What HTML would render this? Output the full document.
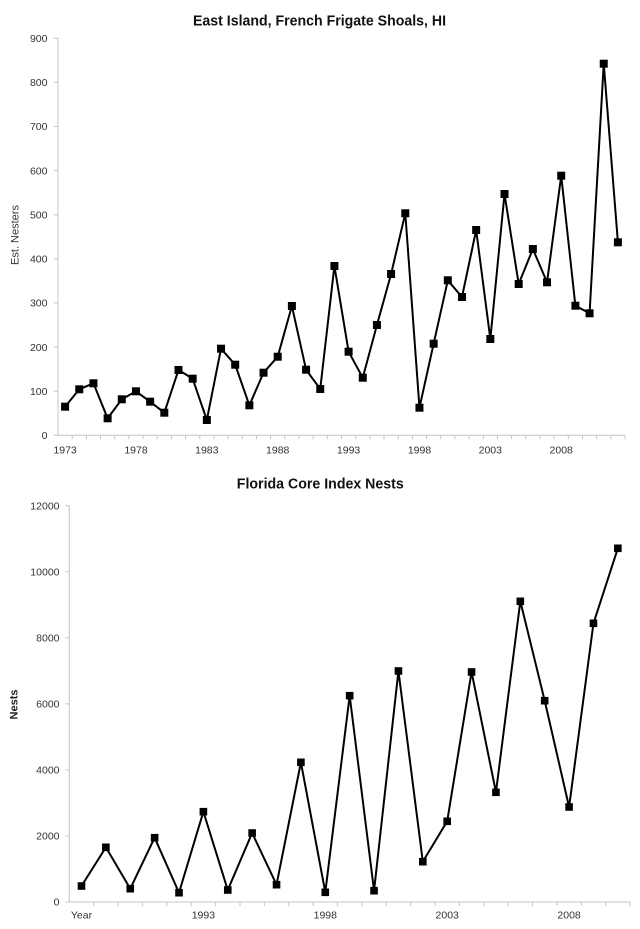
<!DOCTYPE html>
<html><head><meta charset="utf-8"><style>
html,body{margin:0;padding:0;background:#fff;}
svg{display:block;}
text{font-family:"Liberation Sans",sans-serif;}
</style></head><body>
<svg width="640" height="929" viewBox="0 0 640 929" xmlns="http://www.w3.org/2000/svg">
<rect width="640" height="929" fill="#fff"/>
<!-- TOP CHART -->
<text x="319.5" y="25.5" font-size="15" font-weight="bold" text-anchor="middle" fill="#111" textLength="253" lengthAdjust="spacingAndGlyphs">East Island, French Frigate Shoals, HI</text>
<text transform="translate(18.5,235) rotate(-90)" font-size="11" text-anchor="middle" fill="#333">Est. Nesters</text>
<g stroke="#c4c4c4" stroke-width="1" fill="none">
<line x1="58" y1="38.3" x2="58" y2="435.3"/>
<line x1="58" y1="435.3" x2="625" y2="435.3"/>
<path d="M54 435.3H58M54 391.2H58M54 347.1H58M54 303H58M54 258.9H58M54 214.8H58M54 170.6H58M54 126.5H58M54 82.4H58M54 38.3H58"/>
<path d="M72.2 435.3v4M86.4 435.3v4M100.5 435.3v4M114.7 435.3v4M128.9 435.3v4M143 435.3v4M157.2 435.3v4M171.4 435.3v4M185.6 435.3v4M199.8 435.3v4M213.9 435.3v4M228.1 435.3v4M242.3 435.3v4M256.5 435.3v4M270.6 435.3v4M284.8 435.3v4M299 435.3v4M313.2 435.3v4M327.3 435.3v4M341.5 435.3v4M355.7 435.3v4M369.9 435.3v4M384 435.3v4M398.2 435.3v4M412.4 435.3v4M426.6 435.3v4M440.7 435.3v4M454.9 435.3v4M469.1 435.3v4M483.3 435.3v4M497.4 435.3v4M511.6 435.3v4M525.8 435.3v4M540 435.3v4M554.1 435.3v4M568.3 435.3v4M582.5 435.3v4M596.7 435.3v4M610.8 435.3v4M625 435.3v4"/>
</g>
<g font-size="10.5" fill="#333" text-anchor="end">
<text x="47.5" y="439">0</text>
<text x="47.5" y="394.9">100</text>
<text x="47.5" y="350.8">200</text>
<text x="47.5" y="306.7">300</text>
<text x="47.5" y="262.6">400</text>
<text x="47.5" y="218.5">500</text>
<text x="47.5" y="174.3">600</text>
<text x="47.5" y="130.2">700</text>
<text x="47.5" y="86.1">800</text>
<text x="47.5" y="42">900</text>
</g>
<g font-size="10.5" fill="#333" text-anchor="middle">
<text x="65.1" y="453.5">1973</text>
<text x="136" y="453.5">1978</text>
<text x="206.8" y="453.5">1983</text>
<text x="277.7" y="453.5">1988</text>
<text x="348.6" y="453.5">1993</text>
<text x="419.5" y="453.5">1998</text>
<text x="490.3" y="453.5">2003</text>
<text x="561.2" y="453.5">2008</text>
</g>
<polyline fill="none" stroke="#000" stroke-width="2" stroke-linejoin="miter" points="65.09,406.7 79.26,389.3 93.44,383.3 107.61,418.3 121.79,399.3 135.96,391.3 150.14,401.7 164.31,412.7 178.49,370 192.66,378.7 206.84,420 221.01,348.7 235.19,364.7 249.36,405.3 263.54,372.7 277.71,356.7 291.89,306 306.06,369.7 320.24,389 334.41,266 348.59,351.7 362.76,377.7 376.94,325 391.11,274 405.29,213.3 419.46,407.7 433.64,343.7 447.81,280.3 461.99,297 476.16,230 490.34,339 504.51,194 518.69,284 532.86,249 547.04,282.3 561.21,175.7 575.39,305.7 589.56,313.3 603.74,63.7 617.91,242.3"/>
<g fill="#000">
<rect x="61.09" y="402.7" width="8" height="8"/><rect x="75.26" y="385.3" width="8" height="8"/><rect x="89.44" y="379.3" width="8" height="8"/><rect x="103.61" y="414.3" width="8" height="8"/><rect x="117.79" y="395.3" width="8" height="8"/><rect x="131.96" y="387.3" width="8" height="8"/><rect x="146.14" y="397.7" width="8" height="8"/><rect x="160.31" y="408.7" width="8" height="8"/><rect x="174.49" y="366" width="8" height="8"/><rect x="188.66" y="374.7" width="8" height="8"/><rect x="202.84" y="416" width="8" height="8"/><rect x="217.01" y="344.7" width="8" height="8"/><rect x="231.19" y="360.7" width="8" height="8"/><rect x="245.36" y="401.3" width="8" height="8"/><rect x="259.54" y="368.7" width="8" height="8"/><rect x="273.71" y="352.7" width="8" height="8"/><rect x="287.89" y="302" width="8" height="8"/><rect x="302.06" y="365.7" width="8" height="8"/><rect x="316.24" y="385" width="8" height="8"/><rect x="330.41" y="262" width="8" height="8"/><rect x="344.59" y="347.7" width="8" height="8"/><rect x="358.76" y="373.7" width="8" height="8"/><rect x="372.94" y="321" width="8" height="8"/><rect x="387.11" y="270" width="8" height="8"/><rect x="401.29" y="209.3" width="8" height="8"/><rect x="415.46" y="403.7" width="8" height="8"/><rect x="429.64" y="339.7" width="8" height="8"/><rect x="443.81" y="276.3" width="8" height="8"/><rect x="457.99" y="293" width="8" height="8"/><rect x="472.16" y="226" width="8" height="8"/><rect x="486.34" y="335" width="8" height="8"/><rect x="500.51" y="190" width="8" height="8"/><rect x="514.69" y="280" width="8" height="8"/><rect x="528.86" y="245" width="8" height="8"/><rect x="543.04" y="278.3" width="8" height="8"/><rect x="557.21" y="171.7" width="8" height="8"/><rect x="571.39" y="301.7" width="8" height="8"/><rect x="585.56" y="309.3" width="8" height="8"/><rect x="599.74" y="59.7" width="8" height="8"/><rect x="613.91" y="238.3" width="8" height="8"/>
</g>

<!-- BOTTOM CHART -->
<text x="320.3" y="488.3" font-size="14.5" font-weight="bold" text-anchor="middle" fill="#111" textLength="167" lengthAdjust="spacingAndGlyphs">Florida Core Index Nests</text>
<text transform="translate(17.5,704.5) rotate(-90)" font-size="11" font-weight="bold" text-anchor="middle" fill="#222">Nests</text>
<g stroke="#c4c4c4" stroke-width="1" fill="none">
<line x1="69.3" y1="505.7" x2="69.3" y2="902"/>
<line x1="69.3" y1="902" x2="630" y2="902"/>
<path d="M65.3 902H69.3M65.3 836H69.3M65.3 769.9H69.3M65.3 703.9H69.3M65.3 637.8H69.3M65.3 571.8H69.3M65.3 505.7H69.3"/>
<path d="M93.7 902v4M118.1 902v4M142.4 902v4M166.8 902v4M191.2 902v4M215.6 902v4M240 902v4M264.3 902v4M288.7 902v4M313.1 902v4M337.5 902v4M361.9 902v4M386.2 902v4M410.6 902v4M435 902v4M459.4 902v4M483.8 902v4M508.1 902v4M532.5 902v4M556.9 902v4M581.3 902v4M605.7 902v4M630 902v4"/>
</g>
<g font-size="10.5" fill="#333" text-anchor="end">
<text x="59.5" y="905.7">0</text>
<text x="59.5" y="839.7">2000</text>
<text x="59.5" y="773.6">4000</text>
<text x="59.5" y="707.6">6000</text>
<text x="59.5" y="641.5">8000</text>
<text x="59.5" y="575.5">10000</text>
<text x="59.5" y="509.4">12000</text>
</g>
<g font-size="10.5" fill="#333" text-anchor="middle">
<text x="81.5" y="918.5">Year</text>
<text x="203.4" y="918.5">1993</text>
<text x="325.3" y="918.5">1998</text>
<text x="447.2" y="918.5">2003</text>
<text x="569.1" y="918.5">2008</text>
</g>
<polyline fill="none" stroke="#000" stroke-width="2" stroke-linejoin="miter" points="81.49,886 105.87,847.3 130.25,888.7 154.63,837.7 179.01,892.7 203.39,811.7 227.77,890 252.15,833 276.53,884.7 300.91,762.3 325.29,892.3 349.67,695.7 374.05,890.7 398.43,671 422.81,861.7 447.19,821.3 471.57,672 495.95,792.3 520.33,601.3 544.71,700.7 569.09,807 593.47,623.3 617.85,548.3"/>
<g fill="#000">
<rect x="77.69" y="882.2" width="7.6" height="7.6"/><rect x="102.07" y="843.5" width="7.6" height="7.6"/><rect x="126.45" y="884.9" width="7.6" height="7.6"/><rect x="150.83" y="833.9" width="7.6" height="7.6"/><rect x="175.21" y="888.9" width="7.6" height="7.6"/><rect x="199.59" y="807.9" width="7.6" height="7.6"/><rect x="223.97" y="886.2" width="7.6" height="7.6"/><rect x="248.35" y="829.2" width="7.6" height="7.6"/><rect x="272.73" y="880.9" width="7.6" height="7.6"/><rect x="297.11" y="758.5" width="7.6" height="7.6"/><rect x="321.49" y="888.5" width="7.6" height="7.6"/><rect x="345.87" y="691.9" width="7.6" height="7.6"/><rect x="370.25" y="886.9" width="7.6" height="7.6"/><rect x="394.63" y="667.2" width="7.6" height="7.6"/><rect x="419.01" y="857.9" width="7.6" height="7.6"/><rect x="443.39" y="817.5" width="7.6" height="7.6"/><rect x="467.77" y="668.2" width="7.6" height="7.6"/><rect x="492.15" y="788.5" width="7.6" height="7.6"/><rect x="516.53" y="597.5" width="7.6" height="7.6"/><rect x="540.91" y="696.9" width="7.6" height="7.6"/><rect x="565.29" y="803.2" width="7.6" height="7.6"/><rect x="589.67" y="619.5" width="7.6" height="7.6"/><rect x="614.05" y="544.5" width="7.6" height="7.6"/>
</g>
</svg>
</body></html>
